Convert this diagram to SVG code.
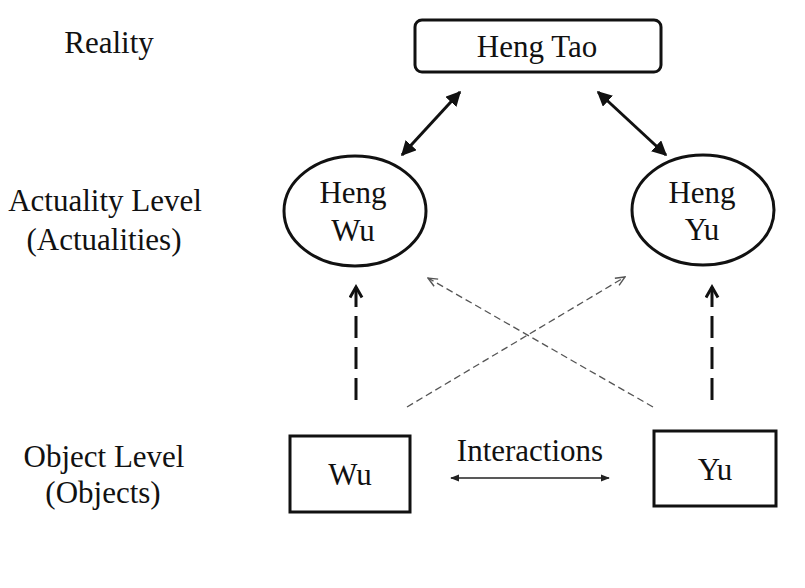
<svg xmlns="http://www.w3.org/2000/svg" width="805" height="588" viewBox="0 0 805 588">
<style>
text{font-family:"Liberation Serif","Times New Roman",serif;font-size:31px;fill:#111;text-anchor:middle}
.shape{fill:#fff;stroke:#111;stroke-width:3}
.thick{stroke:#111;stroke-width:3;fill:none}
.dash{stroke:#111;stroke-width:3;fill:none;stroke-dasharray:22 9}
.thin{stroke:#555;stroke-width:1.3;fill:none;stroke-dasharray:7 4}
.inter{stroke:#222;stroke-width:1.5;fill:none}
</style>
<defs>
<marker id="ah" viewBox="0 0 10 10" refX="9" refY="5" markerWidth="5" markerHeight="5" orient="auto-start-reverse" markerUnits="strokeWidth">
<path d="M0,0 L10,5 L0,10 Z" fill="#111"/>
</marker>
<marker id="av" viewBox="0 0 10 10" refX="8" refY="5" markerWidth="5" markerHeight="5" orient="auto" markerUnits="strokeWidth">
<path d="M1,1 L8,5 L1,9" fill="none" stroke="#111" stroke-width="2"/>
</marker>
<marker id="ao" viewBox="0 0 10 10" refX="9" refY="5" markerWidth="9" markerHeight="9" orient="auto" markerUnits="strokeWidth">
<path d="M1,1.5 L9,5 L1,8.5" fill="none" stroke="#555" stroke-width="1.2"/>
</marker>
<marker id="ai" viewBox="0 0 10 10" refX="9" refY="5" markerWidth="6" markerHeight="6" orient="auto-start-reverse" markerUnits="strokeWidth">
<path d="M0,1 L10,5 L0,9 Z" fill="#222"/>
</marker>
</defs>
<g id="labels">
<text x="109" y="53">Reality</text>
<text x="105" y="211">Actuality Level</text>
<text x="104" y="250">(Actualities)</text>
<text x="104" y="467">Object Level</text>
<text x="103" y="503">(Objects)</text>
</g>
<g id="connectors">
<line class="thick" x1="460" y1="92" x2="402" y2="155" marker-start="url(#ah)" marker-end="url(#ah)"/>
<line class="thick" x1="598" y1="92" x2="666" y2="155" marker-start="url(#ah)" marker-end="url(#ah)"/>
<line class="dash" x1="356" y1="400" x2="356" y2="287" marker-end="url(#av)"/>
<line class="dash" x1="712" y1="400" x2="712" y2="287" marker-end="url(#av)"/>
<line class="thin" x1="407" y1="407" x2="625" y2="277" marker-end="url(#ao)"/>
<line class="thin" x1="653" y1="407" x2="428" y2="278" marker-end="url(#ao)"/>
<line class="inter" x1="451" y1="478" x2="609" y2="478" marker-start="url(#ai)" marker-end="url(#ai)"/>
<text x="530" y="461">Interactions</text>
</g>
<g id="heng-tao">
<rect class="shape" x="415" y="20" width="246" height="52" rx="7"/>
<text x="537" y="57">Heng Tao</text>
</g>
<g id="heng-wu">
<ellipse class="shape" cx="355" cy="211" rx="71" ry="55"/>
<text x="353" y="203">Heng</text>
<text x="353" y="241">Wu</text>
</g>
<g id="heng-yu">
<ellipse class="shape" cx="703" cy="210" rx="71" ry="55"/>
<text x="702" y="203">Heng</text>
<text x="702" y="240">Yu</text>
</g>
<g id="wu">
<rect class="shape" x="290" y="436" width="120" height="76"/>
<text x="350" y="485">Wu</text>
</g>
<g id="yu">
<rect class="shape" x="654" y="431" width="122" height="75"/>
<text x="715" y="480">Yu</text>
</g>
</svg>
